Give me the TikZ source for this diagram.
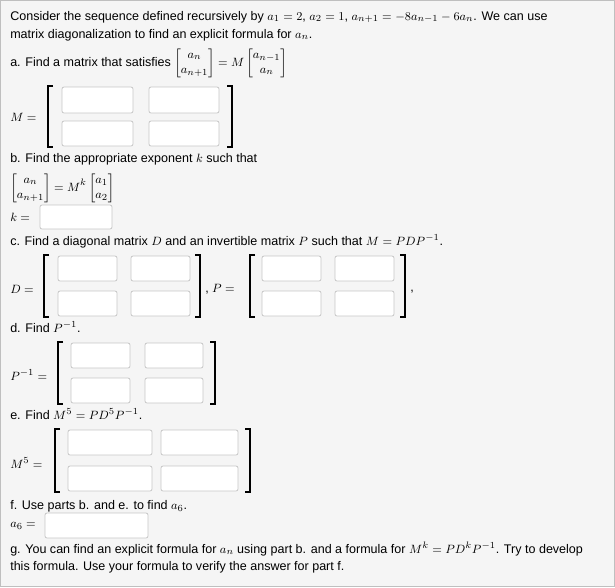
\documentclass[tikz,border=0pt]{standalone}
\usepackage{amsmath}
\usepackage{fontspec}
\setmainfont{Liberation Sans}
\begin{document}
\begin{tikzpicture}[x=0.75pt,y=-0.75pt,
  txt/.style={anchor=west,inner sep=0pt,font=\fontsize{9.4}{11}\selectfont},
  ibox/.style={draw=black!22,fill=white,rounded corners=1.5pt,line width=0.6pt},
  brk/.style={line width=1pt}]
\useasboundingbox (0,0) rectangle (615,587);
\fill[black!4] (0,0) rectangle (615,587);
\draw[black!25] (0.5,0.5) rectangle (614.5,586.5);
\newcommand\bx[4]{\draw[ibox] (#1,#2) rectangle (#3,#4);}
\newcommand\lb[3]{\draw[brk] (#1+5,#2) -- (#1,#2) -- (#1,#3) -- (#1+5,#3);}
\newcommand\rb[3]{\draw[brk] (#1-5,#2) -- (#1,#2) -- (#1,#3) -- (#1-5,#3);}
\node[txt] (t1) at (10,17) {Consider the sequence defined recursively by $a_1=2$, $a_2=1$, $a_{n+1}=-8a_{n-1}-6a_n$. We can use};
\node[txt] (t2) at (10,35) {matrix diagonalization to find an explicit formula for $a_n$.};
\node[txt] (ta) at (10,63) {a. Find a matrix that satisfies $\begin{bmatrix}a_n\\a_{n+1}\end{bmatrix}=M\begin{bmatrix}a_{n-1}\\a_n\end{bmatrix}$};
\node[txt] (M) at (10,117) {$M=$};
\lb{48}{86}{147}\rb{232}{86}{147}
\bx{62}{87}{133}{113}\bx{149}{87}{219}{113}
\bx{62}{121}{133}{146}\bx{149}{121}{219}{146}
\node[txt] (tb) at (10,159) {b. Find the appropriate exponent $k$ such that};
\node[txt] (tb2) at (10,188) {$\begin{bmatrix}a_n\\a_{n+1}\end{bmatrix}=M^k\begin{bmatrix}a_1\\a_2\end{bmatrix}$};
\node[txt] (k) at (10,217) {$k=$};
\bx{40}{205}{112}{229}
\node[txt] (tc) at (10,241) {c. Find a diagonal matrix $D$ and an invertible matrix $P$ such that $M=PDP^{-1}$.};
\node[txt] (D) at (10,289) {$D=$};
\lb{44}{255}{317}\rb{200}{255}{317}
\bx{58}{256}{117}{281}\bx{131}{256}{190}{281}
\bx{58}{291}{117}{316}\bx{131}{291}{190}{316}
\node[txt] (P) at (205,289) {, $P=$};
\lb{250}{255}{317}\rb{405}{255}{317}
\bx{262}{256}{321}{281}\bx{335}{256}{394}{281}
\bx{262}{291}{321}{316}\bx{335}{291}{394}{316}
\node[txt] (cm) at (410,292) {,};
\node[txt] (td) at (10,327) {d. Find $P^{-1}$.};
\node[txt] (Pi) at (10,375) {$P^{-1}=$};
\lb{58}{342}{404}\rb{215}{342}{404}
\bx{71}{343}{130}{368}\bx{145}{343}{203}{368}
\bx{71}{378}{130}{403}\bx{145}{378}{203}{403}
\node[txt] (te) at (10,414) {e. Find $M^5=PD^5P^{-1}$.};
\node[txt] (M5) at (10,463) {$M^5=$};
\lb{55}{429}{492}\rb{250}{429}{492}
\bx{68}{430}{152}{455}\bx{161}{430}{238}{455}
\bx{68}{466}{152}{491}\bx{161}{466}{238}{491}
\node[txt] (tf) at (10,506) {f. Use parts b. and e. to find $a_6$.};
\node[txt] (a6) at (10,526) {$a_6=$};
\bx{45}{513}{148}{538}
\node[txt] (tg) at (10,549) {g. You can find an explicit formula for $a_n$ using part b. and a formula for $M^k=PD^kP^{-1}$. Try to develop};
\node[txt] (tg2) at (10,567) {this formula. Use your formula to verify the answer for part f.};
\end{tikzpicture}
\end{document}
